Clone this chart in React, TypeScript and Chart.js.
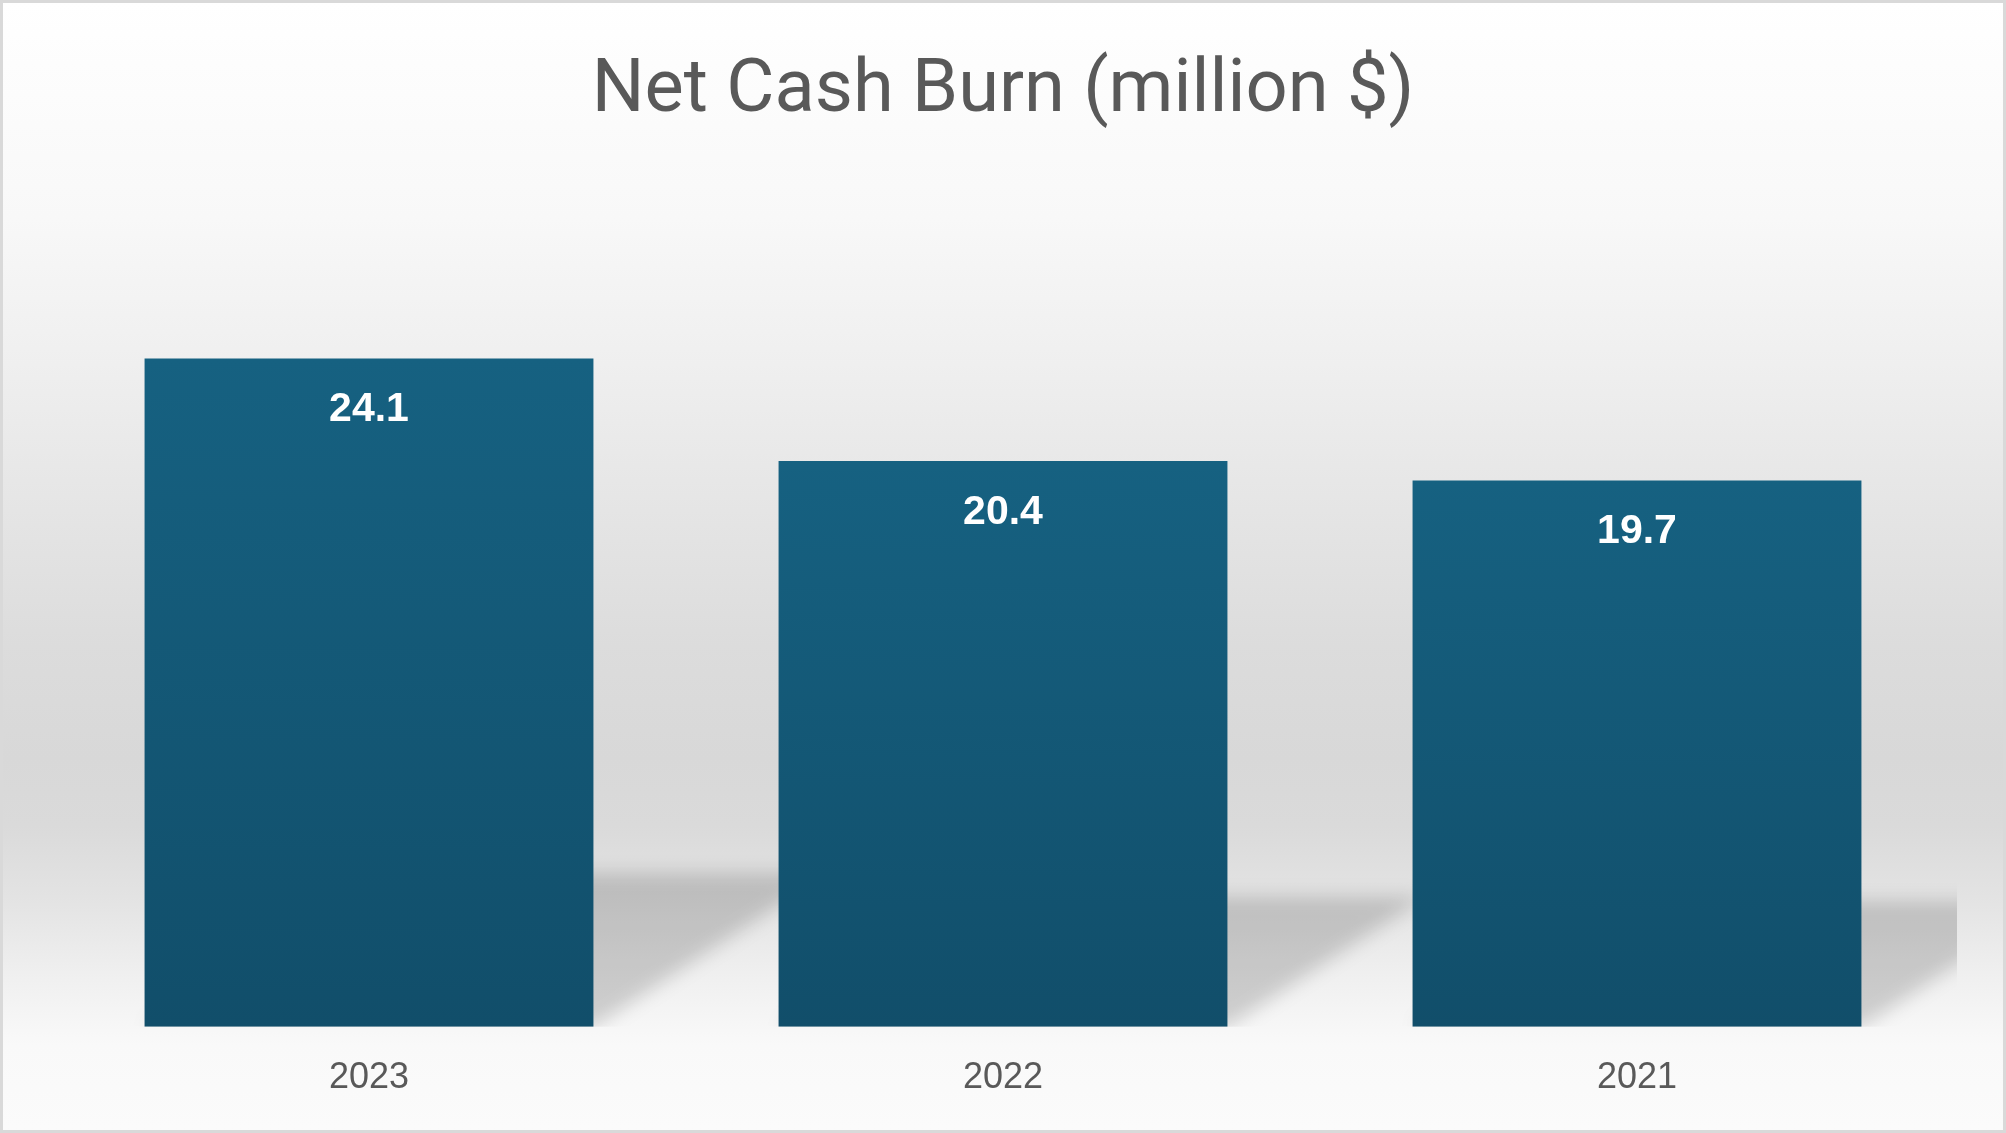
import { useEffect, useRef } from "react"
import { Chart, registerables } from "chart.js"

Chart.register(...registerables)

// data
const categories = ["2023", "2022", "2021"]
const netCashBurn = [24.1, 20.4, 19.7]
const yMin = 0
const yMax = 30

const chartTitle = "Net Cash Burn (million $)"

// perspective shadow that each bar throws back onto the "floor"
const barShadow = {
  id: "barShadow",
  beforeDatasetsDraw(chart: any) {
    const { ctx, chartArea } = chart
    const meta = chart.getDatasetMeta(0)
    ctx.save()
    ctx.beginPath()
    ctx.rect(chartArea.left, chartArea.top, chartArea.right - chartArea.left + 3, chartArea.bottom - chartArea.top)
    ctx.clip()
    ctx.filter = "blur(9px)"
    ctx.fillStyle = "rgba(0, 0, 0, 0.16)"
    meta.data.forEach((bar: any) => {
      const { x, y, base, width } = bar.getProps(["x", "y", "base", "width"], true)
      const h = base - y
      const rise = h * 0.23
      const skew = h * 0.35
      const l = x - width / 2
      const r = x + width / 2
      ctx.beginPath()
      ctx.moveTo(l, base)
      ctx.lineTo(r, base)
      ctx.lineTo(r + skew, base - rise)
      ctx.lineTo(l + skew, base - rise)
      ctx.closePath()
      ctx.fill()
    })
    ctx.restore()
  },
}

// white value labels inside the top of each bar
const barLabels = {
  id: "barLabels",
  afterDatasetsDraw(chart: any) {
    const { ctx } = chart
    const meta = chart.getDatasetMeta(0)
    ctx.save()
    ctx.fillStyle = "#ffffff"
    ctx.font = "bold 41px 'Liberation Sans', Arial, sans-serif"
    ctx.textAlign = "center"
    ctx.textBaseline = "alphabetic"
    meta.data.forEach((bar: any, i: number) => {
      ctx.fillText(netCashBurn[i].toFixed(1), bar.x, bar.y + 63)
    })
    ctx.restore()
  },
}

export default function App() {
  const chartRef = useRef<HTMLCanvasElement>(null)
  const chartInstance = useRef<Chart | null>(null)

  useEffect(() => {
    if (!chartRef.current) return

    if (chartInstance.current) {
      chartInstance.current.destroy()
    }

    const ctx = chartRef.current.getContext("2d")
    if (!ctx) return

    chartInstance.current = new Chart(ctx, {
      type: "bar",
      data: {
        labels: categories,
        datasets: [
          {
            label: "Net Cash Burn",
            data: netCashBurn,
            backgroundColor: (context: any) => {
              const chart = context.chart
              const { chartArea, scales } = chart
              if (!chartArea || !scales.y) return "#145877"
              const top = scales.y.getPixelForValue(netCashBurn[context.dataIndex] ?? yMax)
              const g = chart.ctx.createLinearGradient(0, top, 0, chartArea.bottom)
              g.addColorStop(0, "#166181")
              g.addColorStop(1, "#114e6a")
              return g
            },
            borderWidth: 0,
            categoryPercentage: 1,
            barPercentage: 0.708,
          },
        ],
      },
      options: {
        responsive: true,
        maintainAspectRatio: false,
        animation: false,
        layout: {
          padding: { left: 49, right: 49, top: 0, bottom: 0 },
        },
        plugins: {
          legend: { display: false },
          tooltip: { enabled: false },
          title: {
            display: true,
            text: chartTitle,
            color: "#595959",
            font: { family: "Roboto, 'Liberation Sans', Arial, sans-serif", size: 74, weight: "normal" },
            padding: { top: 45, bottom: 58 },
          },
        },
        scales: {
          x: {
            grid: { display: false, drawTicks: false },
            border: { display: false },
            ticks: {
              color: "#595959",
              font: { family: "'Liberation Sans', Arial, sans-serif", size: 36 },
              padding: 30,
            },
          },
          y: {
            display: false,
            min: yMin,
            max: yMax,
          },
        },
      },
      plugins: [barShadow, barLabels],
    })

    return () => {
      if (chartInstance.current) {
        chartInstance.current.destroy()
        chartInstance.current = null
      }
    }
  }, [])

  return (
    <div
      style={{
        position: "fixed",
        left: 0,
        top: 0,
        width: 2006,
        height: 1133,
        boxSizing: "border-box",
        border: "3px solid #d9d9d9",
        background:
          "linear-gradient(to bottom, #ffffff 0%, #f8f8f8 19%, #efefef 32%, #e5e5e5 45%, #dcdcdc 57%, #d8d8d8 67%, #dadada 73%, #e4e4e4 80%, #efefef 86%, #f9f9f9 92.5%, #fbfbfb 100%)",
      }}
    >
      <canvas ref={chartRef} />
    </div>
  )
}
